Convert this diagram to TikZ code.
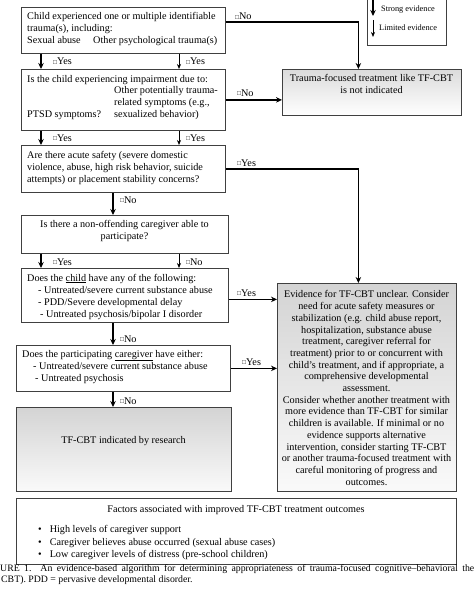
\documentclass[tikz,border=0pt]{standalone}
\usepackage{fontspec}
\setmainfont{Liberation Serif}
\usetikzlibrary{arrows.meta}
\newcommand{\sqb}{\raisebox{0.4pt}{\fontsize{6.5}{6.5}\selectfont □}}
\begin{document}
\begin{tikzpicture}[x=1pt,y=-1pt,
  font=\fontsize{10.2}{11.7}\selectfont,
  box/.style={draw=black!75, line width=0.8pt, anchor=north west, inner sep=0pt},
  txt/.style={anchor=base west, inner sep=0pt},
  ctxt/.style={anchor=center, inner sep=0pt, align=center},
  lab/.style={anchor=base west, inner sep=0pt},
  strong/.style={line width=1.8pt, -{Stealth[length=6pt,width=5.5pt]}},
  weak/.style={line width=0.7pt, -{Stealth[length=5pt,width=4pt]}},
  shadeA/.style={top color=black!17, bottom color=black!2},
  shadeB/.style={top color=black!14, bottom color=white}
]
\useasboundingbox (0,0) rectangle (474,594);
\clip (0,0) rectangle (474,594);
\fill[white] (0,0) rectangle (474,594);

% legend
\node[box, minimum width=79, minimum height=55] (legend) at (367,-10) {};
\coordinate (ls1) at (373,-2);
\coordinate (le1) at (373,16);
\coordinate (ls2) at (373,20);
\coordinate (le2) at (373,37);
\draw[strong] (ls1) -- (le1);
\draw[weak] (ls2) -- (le2);
\node[txt, font=\fontsize{8.3}{9}\selectfont] (lt1) at (381,12) {Strong evidence};
\node[txt, font=\fontsize{8.3}{9}\selectfont] (lt2) at (379,31) {Limited evidence};

% boxes
\node[box, minimum width=204, minimum height=46] (b1) at (21,7) {};
\node[box, minimum width=204, minimum height=61] (b2) at (21,69) {};
\node[box, minimum width=204, minimum height=47] (b3) at (21,145) {};
\node[box, minimum width=207, minimum height=38] (b4) at (21,215) {};
\node[box, minimum width=207, minimum height=54] (b5) at (21,268) {};
\node[box, minimum width=214, minimum height=46] (b6) at (16,345) {};
\node[box, shadeA, minimum width=215, minimum height=84] (b7) at (16,407) {};
\node[box, minimum width=440, minimum height=66] (b8) at (16,498) {};
\node[box, shadeB, minimum width=179, minimum height=46] (ni) at (282,69) {};
\node[box, shadeA, minimum width=179, minimum height=208] (ev) at (277,283) {};

% box texts
\node[txt] (t1a) at (27,20) {Child experienced one or multiple identifiable};
\node[txt] (t1b) at (27,32) {trauma(s), including:};
\node[txt] (t1c) at (27,44) {Sexual abuse};
\node[txt] (t1d) at (93,44) {Other psychological trauma(s)};

\node[txt] (t2a) at (27,82) {Is the child experiencing impairment due to:};
\node[txt] (t2b) at (114,93) {Other potentially trauma-};
\node[txt] (t2c) at (114,105) {related symptoms (e.g.,};
\node[txt] (t2d) at (27,117) {PTSD symptoms?};
\node[txt] (t2e) at (114,117) {sexualized behavior)};

\node[txt] (t3a) at (27,158) {Are there acute safety (severe domestic};
\node[txt] (t3b) at (27,170) {violence, abuse, high risk behavior, suicide};
\node[txt] (t3c) at (27,182) {attempts) or placement stability concerns?};

\node[ctxt] (t4) at (124.5,231) {Is there a non-offending caregiver able to\\participate?};

\node[txt] (t5a) at (27,281) {Does the \underline{child} have any of the following:};
\node[txt] (t5b) at (38,293) {- Untreated/severe current substance abuse};
\node[txt] (t5c) at (38,305) {- PDD/Severe developmental delay};
\node[txt] (t5d) at (40,317) {- Untreated psychosis/bipolar I disorder};

\node[txt] (t6a) at (22,357) {Does the participating \underline{caregiver} have either:};
\node[txt] (t6b) at (33,369) {- Untreated/severe current substance abuse};
\node[txt] (t6c) at (35,381) {- Untreated psychosis};

\node[txt, anchor=base] (t7) at (123.5,443) {TF-CBT indicated by research};

\node[ctxt] (tni) at (371.5,84) {Trauma-focused treatment like TF-CBT\\is not indicated};

\node[ctxt] (tev) at (366.5,388) {Evidence for TF-CBT unclear. Consider\\
need for acute safety measures or\\
stabilization (e.g. child abuse report,\\
hospitalization, substance abuse\\
treatment, caregiver referral for\\
treatment) prior to or concurrent with\\
child’s treatment, and if appropriate, a\\
comprehensive developmental\\
assessment.\\
Consider whether another treatment with\\
more evidence than TF-CBT for similar\\
children is available. If minimal or no\\
evidence supports alternative\\
intervention, consider starting TF-CBT\\
or another trauma-focused treatment with\\
careful monitoring of progress and\\
outcomes.};

\node[txt, anchor=base] (t8) at (236,512) {Factors associated with improved TF-CBT treatment outcomes};
\node[txt] (t8a) at (38,532) {\textbullet\hspace{8pt}High levels of caregiver support};
\node[txt] (t8b) at (38,545) {\textbullet\hspace{8pt}Caregiver believes abuse occurred (sexual abuse cases)};
\node[txt] (t8c) at (38,557) {\textbullet\hspace{8pt}Low caregiver levels of distress (pre-school children)};

% caption
\node[txt, font=\fontsize{9.8}{11}\selectfont] (cap1) at (0,571) {\makebox[474pt][s]{URE 1. An evidence-based algorithm for determining appropriateness of trauma-focused cognitive–behavioral the}};
\node[txt, font=\fontsize{9.8}{11}\selectfont] (cap2) at (1,582) {CBT). PDD = pervasive developmental disorder.};

% vertical connectors
\draw[strong] ([xshift=20pt]b1.south west) -- ([xshift=20pt]b2.north west);
\draw[weak] ([xshift=158pt]b1.south west) -- ([xshift=158pt]b2.north west);
\draw[strong] ([xshift=20pt]b2.south west) -- ([xshift=20pt]b3.north west);
\draw[weak] ([xshift=158pt]b2.south west) -- ([xshift=158pt]b3.north west);
\draw[strong] ([xshift=92pt]b3.south west) -- ([xshift=92pt]b4.north west);
\draw[strong] ([xshift=20pt]b4.south west) -- ([xshift=20pt]b5.north west);
\draw[weak] ([xshift=158pt]b4.south west) -- ([xshift=158pt]b5.north west);
\draw[strong] ([xshift=92pt]b5.south west) -- ([xshift=97pt]b6.north west);
\draw[strong] ([xshift=97pt]b6.south west) -- ([xshift=97pt]b7.north west);

% horizontal connectors
\draw[strong] ([yshift=8pt]b1.east) -| ([xshift=-13.5pt]ni.north);
\draw[strong] (b2.east) -- (b2.east -| ni.west);
\draw[strong] (b3.east) -| ([xshift=-8.5pt]ev.north);
\draw[strong] ([yshift=-4pt]b5.east) -- ([yshift=-4pt]b5.east -| ev.west);
\draw[strong] (b6.east) -- (b6.east -| ev.west);

% connector labels
\node[lab] (l1) at (53,65) {\sqb Yes};
\node[lab] (l2) at (186,65) {\sqb Yes};
\node[lab] (l3) at (53,141) {\sqb Yes};
\node[lab] (l4) at (186,141) {\sqb Yes};
\node[lab] (l5) at (120,203) {\sqb No};
\node[lab] (l6) at (53,265) {\sqb Yes};
\node[lab] (l7) at (186,265) {\sqb No};
\node[lab] (l8) at (120,342) {\sqb No};
\node[lab] (l9) at (120,404) {\sqb No};
\node[lab] (l10) at (235,20) {\sqb No};
\node[lab] (l11) at (237,96) {\sqb No};
\node[lab] (l12) at (237,166) {\sqb Yes};
\node[lab] (l13) at (237,296) {\sqb Yes};
\node[lab] (l14) at (242,365) {\sqb Yes};
\end{tikzpicture}
\end{document}
